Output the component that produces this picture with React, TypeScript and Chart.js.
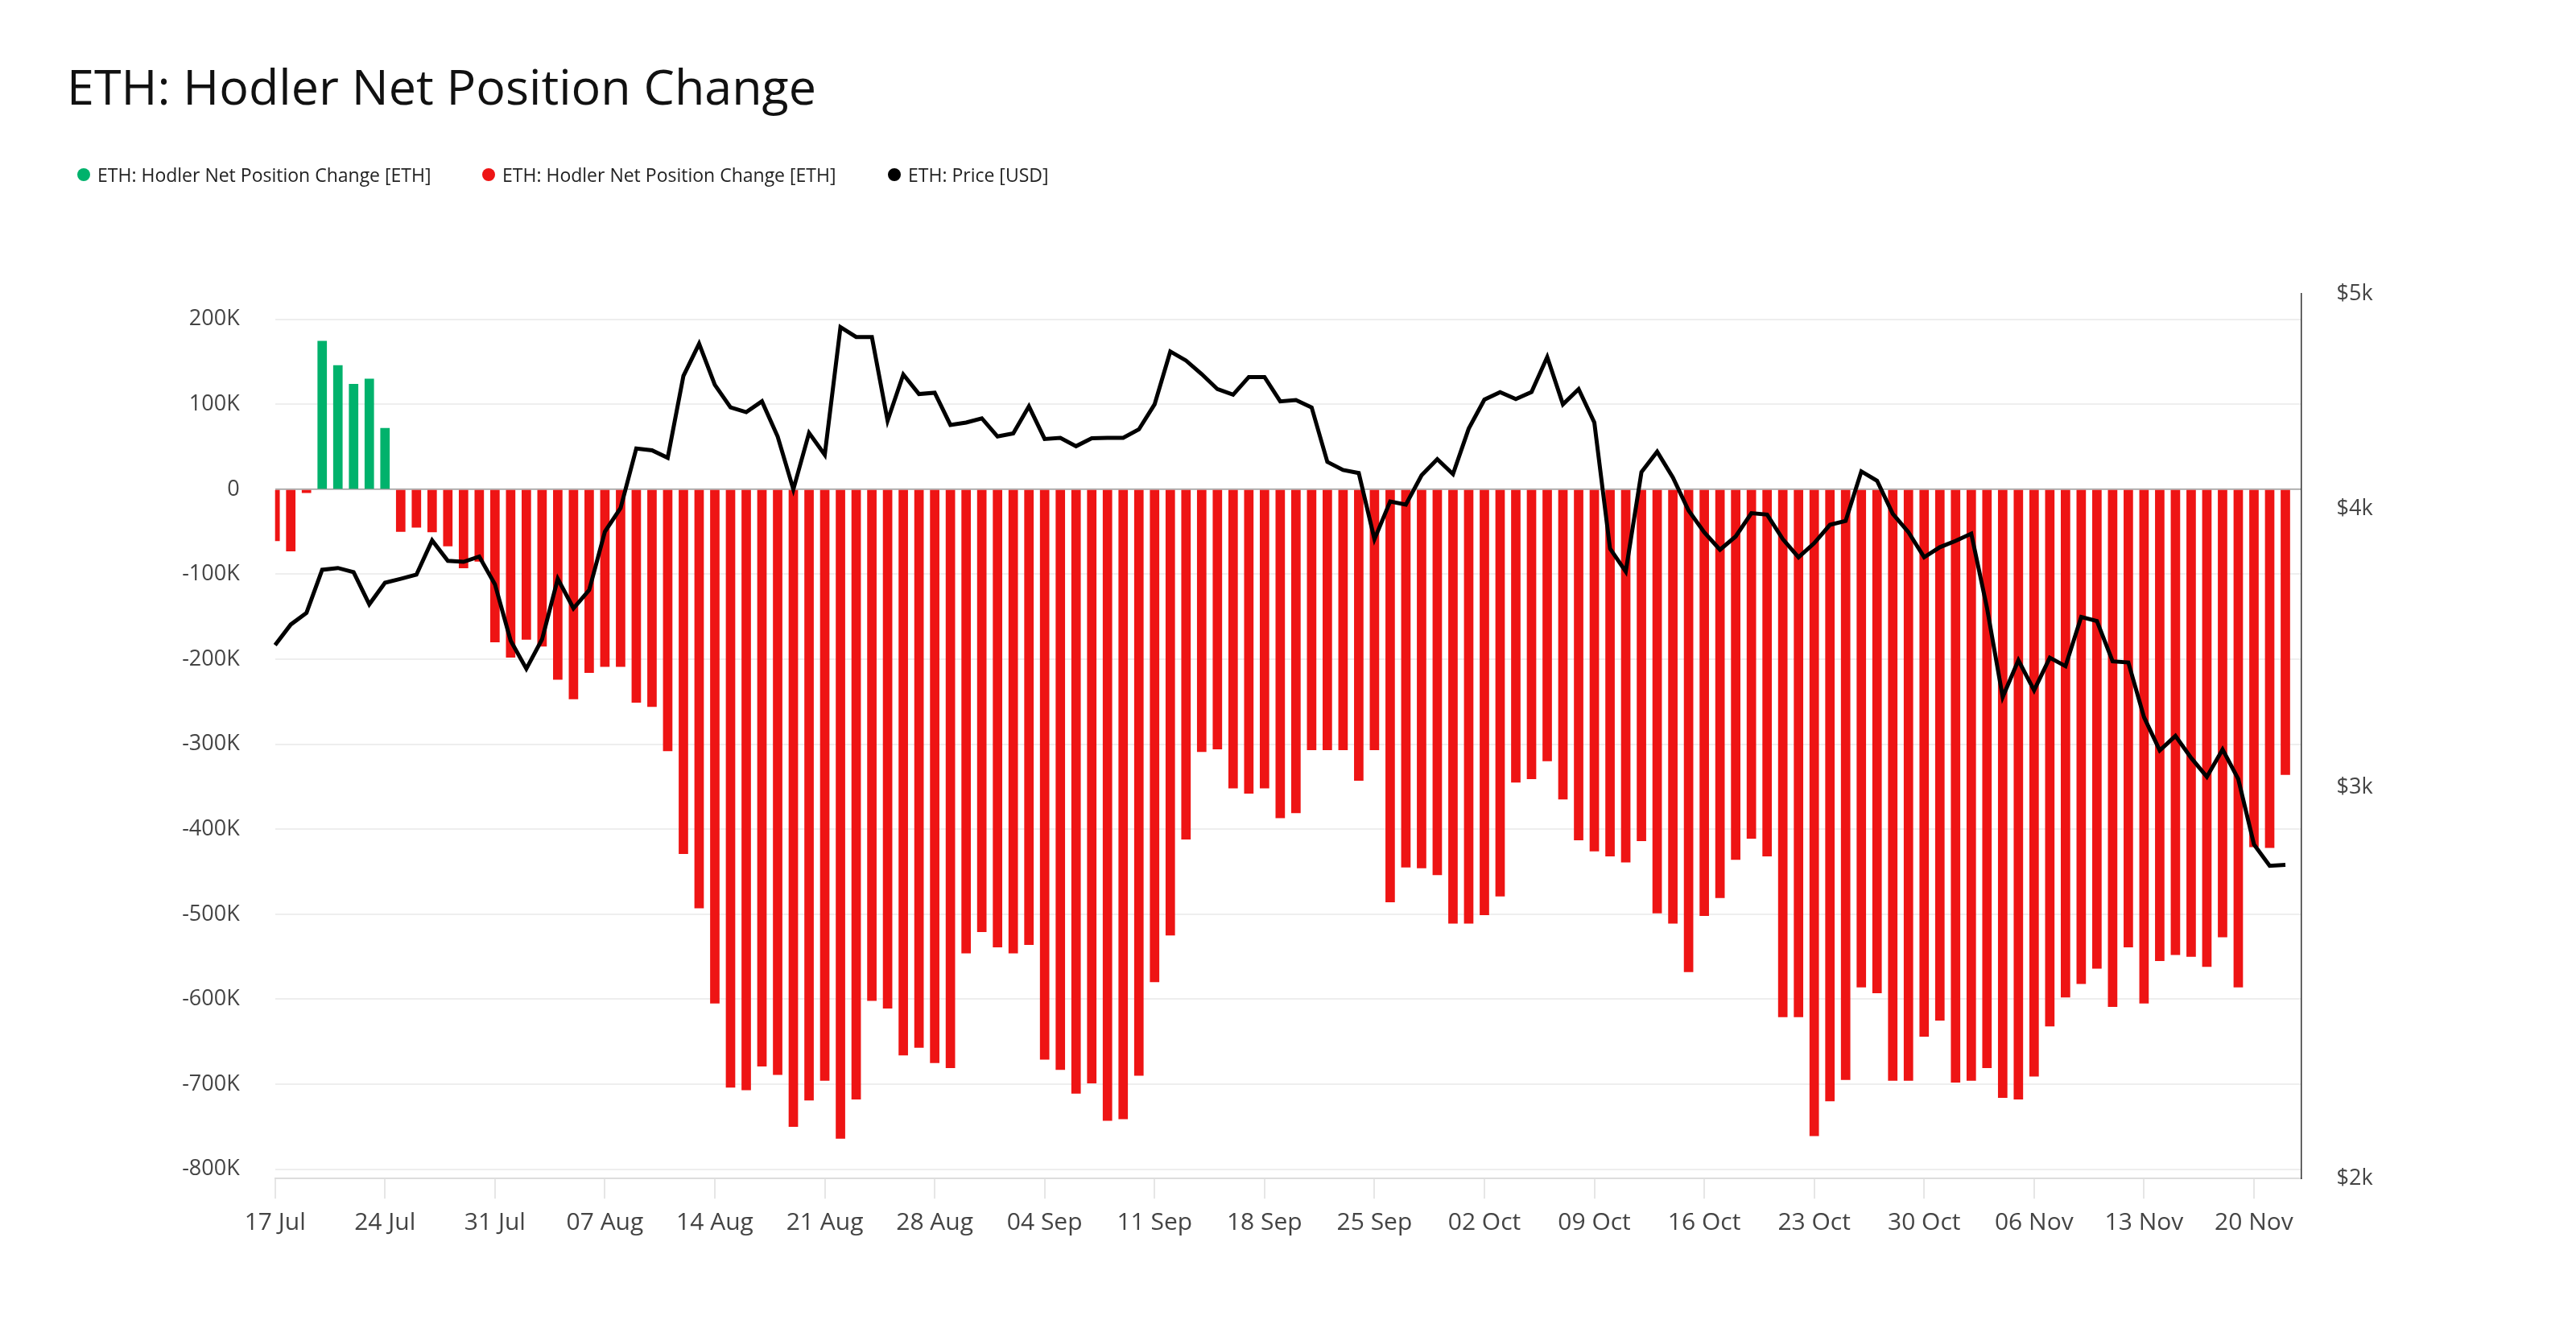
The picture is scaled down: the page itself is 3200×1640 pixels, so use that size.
import React, { useEffect, useRef } from 'react';
import { Chart, registerables } from 'chart.js';

Chart.register(...registerables);

// ---- data -------------------------------------------------------------
const MONTHS = ['Jan', 'Feb', 'Mar', 'Apr', 'May', 'Jun', 'Jul', 'Aug', 'Sep', 'Oct', 'Nov', 'Dec'];
const START_YEAR = 2025;
const START_MONTH = 6; // July (0-based)
const START_DAY = 17;
const DAY_COUNT = 130; // 17 Jul .. 23 Nov (axis runs one day past the last bar)

const tickLabels = [
  '17 Jul', '24 Jul', '31 Jul', '07 Aug', '14 Aug', '21 Aug', '28 Aug', '04 Sep', '11 Sep', '18 Sep',
  '25 Sep', '02 Oct', '09 Oct', '16 Oct', '23 Oct', '30 Oct', '06 Nov', '13 Nov', '20 Nov',
];

// ETH: Hodler Net Position Change [ETH], daily from 17 Jul to 22 Nov
const netPositionChange = [
  -61000, -73000, -4400, 174600, 146000, 124000, 130000, 72000, -50000, -45000,
  -50500, -67000, -93000, -85000, -180000, -198000, -177000, -185000, -224000, -247000,
  -216000, -209000, -209000, -251000, -256000, -308000, -429000, -493000, -605000, -704000,
  -707000, -679000, -689000, -750000, -719000, -696000, -764000, -718000, -602000, -611000,
  -666000, -657000, -675000, -681000, -546000, -521000, -539000, -546000, -536000, -671000,
  -683000, -711000, -699000, -743000, -741000, -690000, -580000, -525000, -412000, -309000,
  -306000, -352000, -358000, -352000, -387000, -381000, -307000, -307000, -307000, -343000,
  -307000, -486000, -445000, -446000, -454000, -511000, -511000, -501000, -479000, -345000,
  -341000, -320000, -365000, -413000, -426000, -432000, -439000, -414000, -499000, -511000,
  -568000, -502000, -481000, -436000, -411000, -432000, -621000, -621000, -761000, -720000,
  -695000, -586000, -593000, -696000, -696000, -644000, -625000, -698000, -696000, -681000,
  -716000, -718000, -691000, -632000, -598000, -582000, -564000, -609000, -539000, -605000,
  -555000, -548000, -550000, -562000, -527000, -586000, -421000, -422000, -336000,
];

// ETH: Price [USD], daily from 17 Jul to 22 Nov
const priceUsd = [
  3475, 3550, 3593, 3757, 3764, 3748, 3625, 3707, 3722, 3738,
  3873, 3792, 3788, 3809, 3701, 3491, 3391, 3496, 3722, 3610,
  3679, 3908, 4005, 4260, 4252, 4219, 4592, 4748, 4550, 4445,
  4423, 4473, 4313, 4083, 4329, 4232, 4830, 4781, 4781, 4384,
  4599, 4507, 4513, 4365, 4376, 4395, 4313, 4327, 4450, 4302,
  4307, 4270, 4305, 4307, 4307, 4345, 4459, 4710, 4666, 4601,
  4530, 4504, 4587, 4587, 4473, 4479, 4445, 4201, 4166, 4153,
  3878, 4032, 4019, 4143, 4213, 4148, 4348, 4481, 4516, 4484,
  4516, 4683, 4459, 4530, 4376, 3840, 3750, 4157, 4246, 4134,
  3995, 3905, 3836, 3889, 3984, 3978, 3878, 3806, 3862, 3936,
  3952, 4160, 4120, 3981, 3906, 3806, 3846, 3871, 3900, 3612,
  3293, 3421, 3316, 3430, 3400, 3578, 3563, 3417, 3413, 3225,
  3116, 3163, 3092, 3032, 3119, 3025, 2827, 2765, 2768,
];

const netTickValues = [200000, 100000, 0, -100000, -200000, -300000, -400000, -500000, -600000, -700000, -800000];
const priceTickValues = [2000, 3000, 4000, 5000];

const SERIES_LABEL_NET = 'ETH: Hodler Net Position Change [ETH]';
const SERIES_LABEL_PRICE = 'ETH: Price [USD]';

const GREEN = '#00b26c';
const RED = '#ee1414';
const BLACK = '#000000';

const categories: string[] = [];
for (let i = 0; i < DAY_COUNT; i++) {
  const dt = new Date(Date.UTC(START_YEAR, START_MONTH, START_DAY + i));
  categories.push(String(dt.getUTCDate()).padStart(2, '0') + ' ' + MONTHS[dt.getUTCMonth()]);
}

const gains = netPositionChange.map((v) => (v > 0 ? v : null));
const losses = netPositionChange.map((v) => (v < 0 ? v : null));

const FONT = "'Open Sans', 'Noto Sans', sans-serif";

export default function App() {
  const ref = useRef<HTMLCanvasElement | null>(null);

  useEffect(() => {
    if (!ref.current) return;
    Chart.defaults.font.family = FONT;
    const chart = new Chart(ref.current, {
      type: 'bar',
      data: {
        labels: categories,
        datasets: [
          {
            type: 'line',
            label: SERIES_LABEL_PRICE,
            data: priceUsd,
            yAxisID: 'yPrice',
            borderColor: BLACK,
            backgroundColor: BLACK,
            borderWidth: 5,
            pointRadius: 0,
            pointHoverRadius: 0,
            tension: 0,
            fill: false,
            order: 0,
          } as any,
          {
            type: 'bar',
            label: SERIES_LABEL_NET,
            data: gains,
            yAxisID: 'y',
            backgroundColor: GREEN,
            borderWidth: 0,
            grouped: false,
            barPercentage: 0.6,
            categoryPercentage: 1,
            clip: 0,
            order: 1,
          } as any,
          {
            type: 'bar',
            label: SERIES_LABEL_NET,
            data: losses,
            yAxisID: 'y',
            backgroundColor: RED,
            borderWidth: 0,
            grouped: false,
            barPercentage: 0.6,
            categoryPercentage: 1,
            clip: 0,
            order: 1,
          } as any,
        ],
      },
      options: {
        animation: false,
        responsive: false,
        devicePixelRatio: 1,
        layout: { padding: { top: 365, left: 0, right: 0, bottom: 0 } },
        plugins: {
          legend: { display: false },
          title: { display: false },
          tooltip: { enabled: false },
        },
        scales: {
          x: {
            type: 'category',
            offset: false,
            grid: {
              offset: false,
              drawOnChartArea: false,
              drawTicks: true,
              tickLength: 25,
              color: '#e6e6e6',
              lineWidth: 2,
            },
            border: { display: true, color: '#dddddd', width: 2 },
            ticks: {
              autoSkip: false,
              maxRotation: 0,
              minRotation: 0,
              padding: 12,
              color: '#444444',
              font: { size: 30, family: FONT },
              callback: (_v: any, i: number) => {
                const l = categories[i];
                return tickLabels.includes(l) ? l : null;
              },
            },
            afterFit: (s: any) => {
              s.height = 175.7;
            },
          },
          y: {
            type: 'linear',
            position: 'left',
            min: -811000,
            max: 230000,
            afterBuildTicks: (s: any) => {
              s.ticks = netTickValues.map((v) => ({ value: v }));
            },
            ticks: {
              padding: 44,
              color: '#444444',
              font: { size: 27, family: FONT },
              callback: (v: any) => (Number(v) === 0 ? '0' : `${Number(v) / 1000}K`),
            },
            grid: {
              drawTicks: false,
              color: (ctx: any) => (ctx.tick && ctx.tick.value === 0 ? '#9a9a9a' : '#eeeeee'),
              lineWidth: (ctx: any) => (ctx.tick && ctx.tick.value === 0 ? 1.5 : 2),
            },
            border: { display: false },
            afterFit: (s: any) => {
              s.width = 341.7;
            },
          },
          yPrice: {
            type: 'logarithmic',
            position: 'right',
            min: 2000,
            max: 5000,
            afterBuildTicks: (s: any) => {
              s.ticks = priceTickValues.map((v) => ({ value: v }));
            },
            ticks: {
              padding: 44,
              color: '#444444',
              font: { size: 27, family: FONT },
              callback: (v: any) => `$${Number(v) / 1000}k`,
            },
            grid: { drawOnChartArea: false, drawTicks: false },
            border: { display: true, color: '#333333', width: 1.5 },
            afterFit: (s: any) => {
              s.width = 341.5;
            },
          },
        },
      } as any,
    });
    return () => chart.destroy();
  }, []);

  const legendItems = [
    { color: GREEN, text: SERIES_LABEL_NET, dot: 104, textX: 121 },
    { color: RED, text: SERIES_LABEL_NET, dot: 607, textX: 624 },
    { color: BLACK, text: SERIES_LABEL_PRICE, dot: 1111, textX: 1128 },
  ];

  return (
    <div
      style={{
        position: 'fixed',
        left: 0,
        top: 0,
        width: 3200,
        height: 1640,
        background: '#ffffff',
        overflow: 'hidden',
        fontFamily: FONT,
      }}
    >
      <canvas ref={ref} width={3200} height={1640} style={{ position: 'absolute', left: 0, top: 0, width: 3200, height: 1640 }} />
      <div
        style={{
          position: 'absolute',
          left: 83,
          top: 75.8,
          fontSize: 61,
          lineHeight: 1,
          color: '#111111',
          whiteSpace: 'nowrap',
        }}
      >
        ETH: Hodler Net Position Change
      </div>
      {legendItems.map((it, i) => (
        <React.Fragment key={i}>
          <div
            style={{
              position: 'absolute',
              left: it.dot - 8,
              top: 217 - 8,
              width: 16,
              height: 16,
              borderRadius: '50%',
              background: it.color,
            }}
          />
          <div
            style={{
              position: 'absolute',
              left: it.textX,
              top: 206.3,
              fontSize: 23,
              lineHeight: 1,
              color: '#222222',
              whiteSpace: 'nowrap',
            }}
          >
            {it.text}
          </div>
        </React.Fragment>
      ))}
    </div>
  );
}
